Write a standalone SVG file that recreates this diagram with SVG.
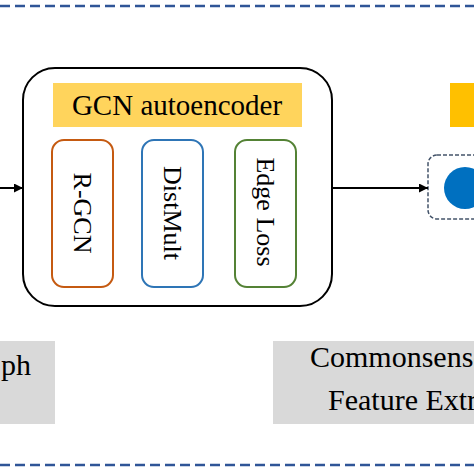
<svg xmlns="http://www.w3.org/2000/svg" width="474" height="474" viewBox="0 0 474 474">
<defs>
<style>
.t{font-family:"Liberation Serif","Times New Roman",serif;fill:#000}
.sep{stroke:#2F5597;stroke-width:2.5;stroke-dasharray:10 5;fill:none}
.inner{fill:#fff;stroke-width:2}
.conn{stroke:#000;stroke-width:2;fill:none}
</style>
<marker id="ah" viewBox="0 0 10 10" refX="10" refY="5" markerWidth="4.5" markerHeight="4.5" orient="auto" markerUnits="strokeWidth">
<path d="M0,0 L10,5 L0,10 z" fill="#000"/>
</marker>
</defs>
<rect width="474" height="474" fill="#fff"/>
<line class="sep" x1="0" y1="6" x2="474" y2="6"/>
<line class="sep" x1="0" y1="465" x2="474" y2="465"/>

<g id="gcn-autoencoder">
<rect x="23" y="68" width="309" height="238" rx="32" fill="#fff" stroke="#000" stroke-width="2"/>
<rect x="53" y="83" width="249" height="44" fill="#FFD45C"/>
<text class="t" x="177" y="115" font-size="29" text-anchor="middle">GCN autoencoder</text>
</g>
<g id="r-gcn">
<rect class="inner" x="52" y="140" width="61" height="147" rx="12" stroke="#C55A11"/>
<text class="t" font-size="26" text-anchor="middle" dominant-baseline="central" transform="translate(82.5,213) rotate(90)">R-GCN</text>
</g>
<g id="distmult">
<rect class="inner" x="142" y="140" width="61" height="147" rx="12" stroke="#2E75B6"/>
<text class="t" font-size="26" text-anchor="middle" dominant-baseline="central" transform="translate(172.5,213) rotate(90)">DistMult</text>
</g>
<g id="edge-loss">
<rect class="inner" x="235" y="140" width="61" height="147" rx="12" stroke="#548235"/>
<text class="t" font-size="26" text-anchor="middle" dominant-baseline="central" transform="translate(265.5,212) rotate(90)">Edge Loss</text>
</g>

<g id="feature-node">
<rect x="428" y="155" width="60" height="64" rx="9" fill="#fff" stroke="#44546A" stroke-width="1.5" stroke-dasharray="4 2"/>
<circle cx="465" cy="188" r="21" fill="#0070C0"/>
</g>
<g id="top-right-label">
<rect x="450" y="83" width="30" height="44" fill="#FFC000"/>
</g>

<g id="left-label">
<rect x="-10" y="341" width="65" height="83" fill="#D9D9D9"/>
<text class="t" x="31" y="375" font-size="30" text-anchor="end">ph</text>
</g>
<g id="right-label">
<rect x="273" y="341" width="210" height="83" fill="#D9D9D9"/>
<text class="t" x="310" y="367" font-size="30">Commonsense</text>
<text class="t" x="328" y="410" font-size="30">Feature Extr</text>
</g>

<g id="connectors">
<line class="conn" x1="0" y1="188" x2="23" y2="188" marker-end="url(#ah)"/>
<line class="conn" x1="332" y1="188" x2="428" y2="188" marker-end="url(#ah)"/>
</g>
</svg>
